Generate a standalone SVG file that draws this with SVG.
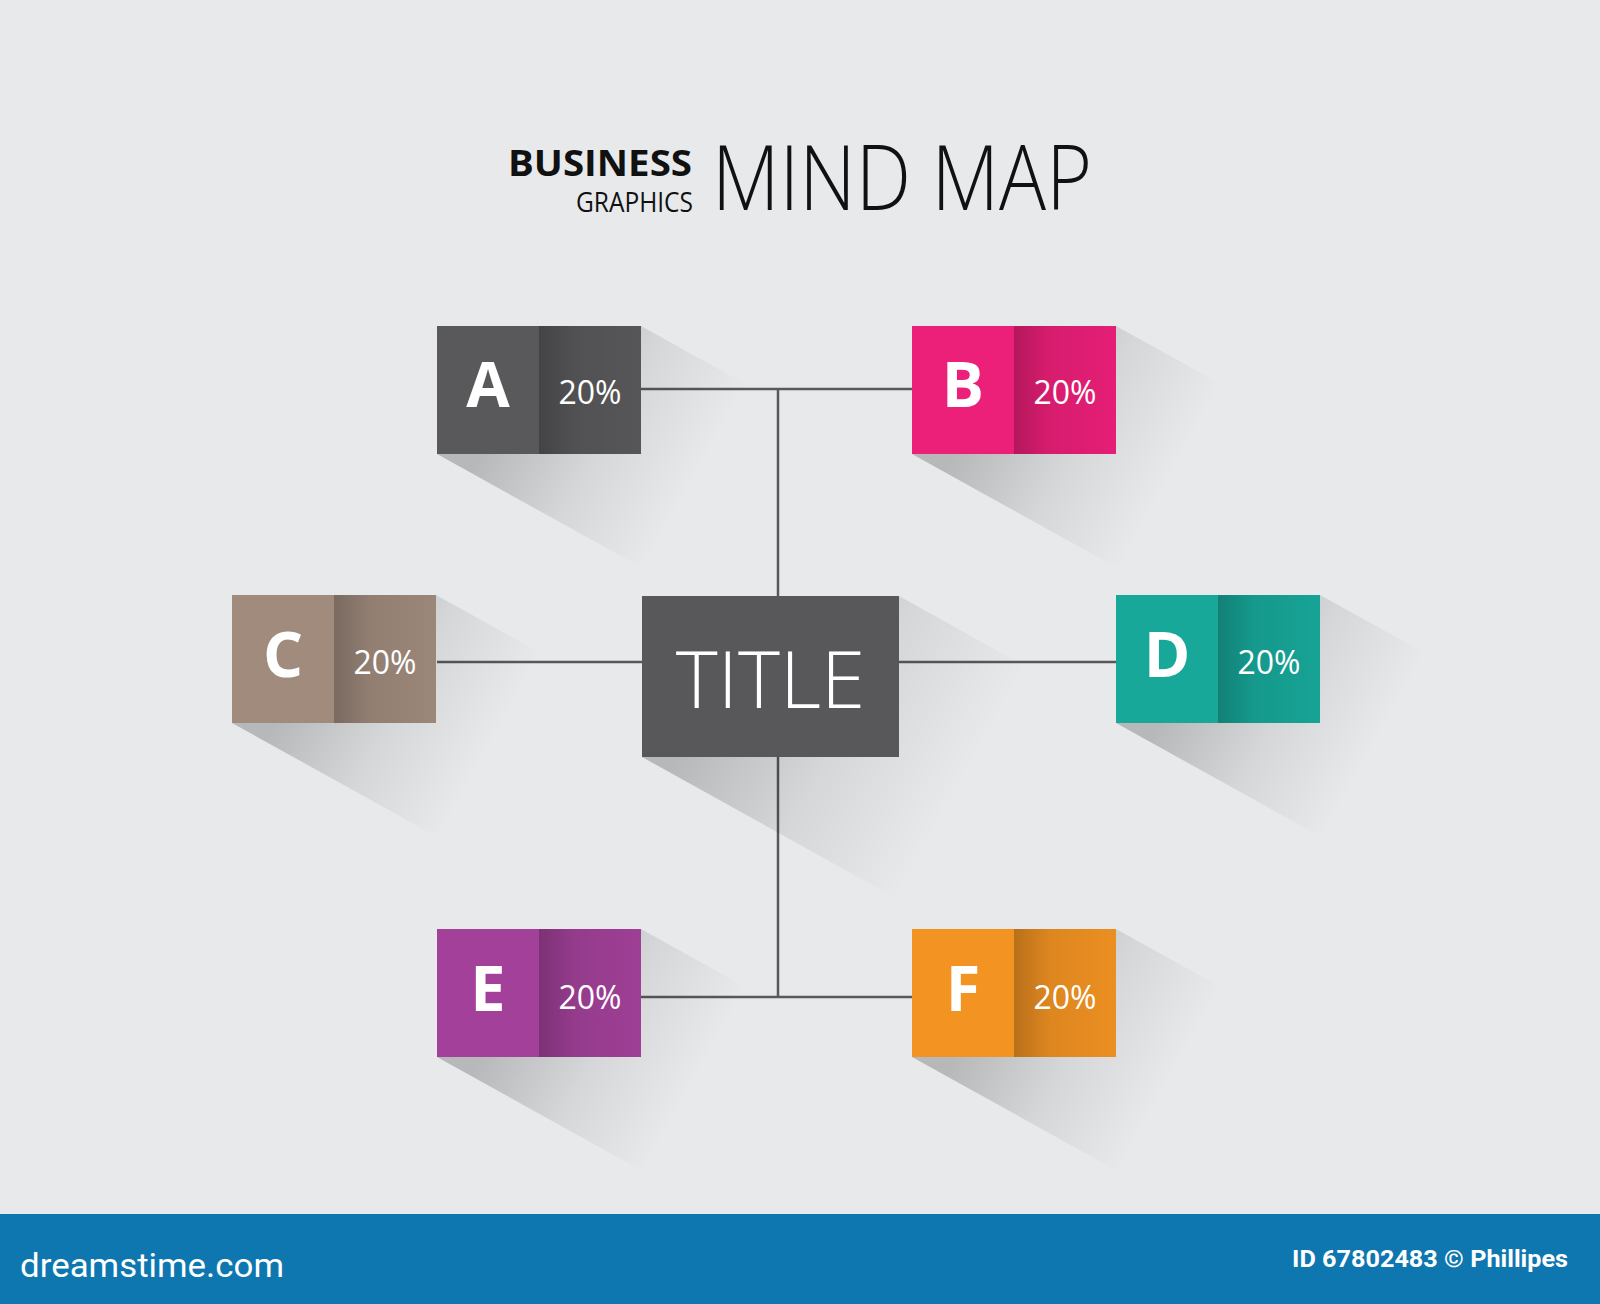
<svg xmlns="http://www.w3.org/2000/svg" width="1600" height="1304" viewBox="0 0 1600 1304">
<defs>
<style>
.bg{fill:#e8e9eb}
.conn{stroke:#58585a;stroke-width:2.5;fill:none}
.letter{font-family:"Open Sans","Liberation Sans",sans-serif;font-weight:700;font-size:63px;fill:#ffffff;text-anchor:middle}
.pct{font-family:"Open Sans","Liberation Sans",sans-serif;font-weight:400;font-size:32px;fill:#ffffff;text-anchor:middle}
.title{font-family:"Open Sans","Liberation Sans",sans-serif;font-weight:300;font-size:80px;fill:#ffffff;text-anchor:middle}
.head{font-family:"Open Sans","Liberation Sans",sans-serif;fill:#111111}
.foot{font-family:Roboto,"Liberation Sans",sans-serif;fill:#ffffff}
</style>
<linearGradient id="shSmall" gradientUnits="userSpaceOnUse" x1="87" y1="49" x2="262" y2="146">
<stop offset="0" stop-color="#000" stop-opacity="0.21"/>
<stop offset="0.5" stop-color="#000" stop-opacity="0.08"/>
<stop offset="1" stop-color="#000" stop-opacity="0"/>
</linearGradient>
<linearGradient id="shBig" gradientUnits="userSpaceOnUse" x1="96" y1="53" x2="324" y2="180">
<stop offset="0" stop-color="#000" stop-opacity="0.21"/>
<stop offset="0.5" stop-color="#000" stop-opacity="0.08"/>
<stop offset="1" stop-color="#000" stop-opacity="0"/>
</linearGradient>
<linearGradient id="fold" x1="0" y1="0" x2="1" y2="0">
<stop offset="0" stop-color="#000" stop-opacity="0.24"/>
<stop offset="0.35" stop-color="#000" stop-opacity="0.09"/>
<stop offset="1" stop-color="#000" stop-opacity="0.03"/>
</linearGradient>
<polygon id="shadow" points="204,0 404,111 404,239 200,239 0,128" fill="url(#shSmall)"/>
</defs>

<rect class="bg" x="0" y="0" width="1600" height="1304"/>

<g id="header">
<text class="head" x="508" y="176" font-size="36" font-weight="700" textLength="184" lengthAdjust="spacingAndGlyphs">BUSINESS</text>
<text class="head" x="576" y="212" font-size="27" font-weight="400" textLength="117" lengthAdjust="spacingAndGlyphs">GRAPHICS</text>
<text class="head" x="712" y="210" font-size="90" font-weight="200" textLength="380" lengthAdjust="spacingAndGlyphs">MIND MAP</text>
</g>

<g id="connectors">
<line class="conn" x1="641" y1="389" x2="912" y2="389"/>
<line class="conn" x1="778" y1="389" x2="778" y2="596"/>
<line class="conn" x1="437" y1="662" x2="642" y2="662"/>
<line class="conn" x1="899" y1="662" x2="1116" y2="662"/>
<line class="conn" x1="778" y1="757" x2="778" y2="997"/>
<line class="conn" x1="641" y1="997" x2="912" y2="997"/>
</g>

<g id="node-title" transform="translate(642,596)">
<polygon points="257,0 507,139 507,300 250,300 0,161" fill="url(#shBig)"/>
<rect x="0" y="0" width="257" height="161" fill="#58585a"/>
<text class="title" x="128.5" y="112">TITLE</text>
</g>

<g id="node-A" transform="translate(437,326)">
<use href="#shadow"/>
<rect x="0" y="0" width="204" height="128" fill="#59595b"/>
<rect x="102" y="0" width="102" height="128" fill="url(#fold)"/>
<text class="letter" x="51" y="81">A</text>
<text class="pct" x="153" y="78">20%</text>
</g>

<g id="node-B" transform="translate(912,326)">
<use href="#shadow"/>
<rect x="0" y="0" width="204" height="128" fill="#ec1f79"/>
<rect x="102" y="0" width="102" height="128" fill="url(#fold)"/>
<text class="letter" x="51" y="81">B</text>
<text class="pct" x="153" y="78">20%</text>
</g>

<g id="node-C" transform="translate(232,595)">
<use href="#shadow"/>
<rect x="0" y="0" width="204" height="128" fill="#a08b7d"/>
<rect x="102" y="0" width="102" height="128" fill="url(#fold)"/>
<text class="letter" x="51" y="82">C</text>
<text class="pct" x="153" y="79">20%</text>
</g>

<g id="node-D" transform="translate(1116,595)">
<use href="#shadow"/>
<rect x="0" y="0" width="204" height="128" fill="#17a89a"/>
<rect x="102" y="0" width="102" height="128" fill="url(#fold)"/>
<text class="letter" x="51" y="82">D</text>
<text class="pct" x="153" y="79">20%</text>
</g>

<g id="node-E" transform="translate(437,929)">
<use href="#shadow"/>
<rect x="0" y="0" width="204" height="128" fill="#a3419a"/>
<rect x="102" y="0" width="102" height="128" fill="url(#fold)"/>
<text class="letter" x="51" y="82">E</text>
<text class="pct" x="153" y="80">20%</text>
</g>

<g id="node-F" transform="translate(912,929)">
<use href="#shadow"/>
<rect x="0" y="0" width="204" height="128" fill="#f39322"/>
<rect x="102" y="0" width="102" height="128" fill="url(#fold)"/>
<text class="letter" x="51" y="82">F</text>
<text class="pct" x="153" y="80">20%</text>
</g>

<g id="footer">
<rect x="0" y="1214" width="1600" height="90" fill="#0f77af"/>
<text class="foot" x="20" y="1277" font-size="34" font-weight="400" textLength="264" lengthAdjust="spacingAndGlyphs">dreamstime.com</text>
<text class="foot" x="1292" y="1267" font-size="24" font-weight="700" textLength="276" lengthAdjust="spacingAndGlyphs">ID 67802483 © Phillipes</text>
</g>
</svg>
